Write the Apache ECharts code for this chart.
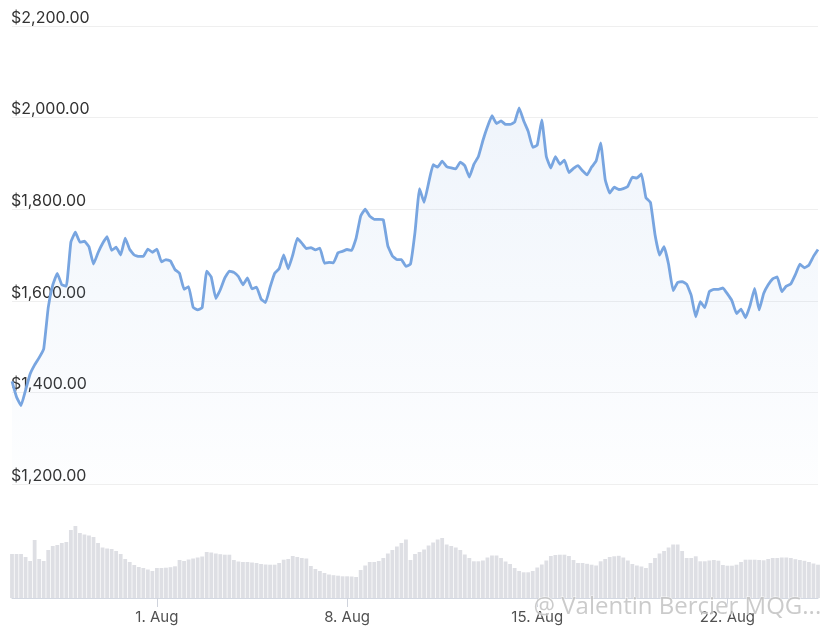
<!DOCTYPE html>
<html>
<head>
<meta charset="utf-8">
<script src="https://cdn.jsdelivr.net/npm/echarts@6/dist/echarts.min.js"></script>
<style>
html,body{margin:0;padding:0;background:#fff;}
#chart{width:828px;height:634px;}
</style>
</head>
<body>
<div id="chart"></div>
<script>
// 4-hourly samples starting 26 Jul 2022 16:00 UTC
const startTime = Date.UTC(2022, 6, 26, 16);
const stepHours = 4;

// ETH price (USD)
const prices = [
  1424,1390,1371,1405,1440,1460,1476,1495,1585,1634,
  1660,1635,1632,1728,1750,1728,1730,1718,1680,1705,
  1725,1740,1710,1717,1700,1737,1712,1700,1697,1697,
  1713,1706,1713,1685,1690,1687,1668,1660,1625,1631,
  1586,1580,1585,1665,1652,1605,1624,1650,1665,1662,
  1653,1635,1650,1626,1630,1604,1596,1630,1660,1670,
  1700,1670,1700,1736,1726,1714,1716,1711,1715,1682,
  1684,1683,1705,1708,1712,1710,1737,1785,1800,1785,
  1778,1778,1777,1720,1698,1690,1690,1675,1680,1750,
  1845,1815,1857,1897,1892,1905,1893,1890,1888,1903,
  1895,1870,1898,1915,1950,1980,2004,1987,1993,1985,
  1985,1990,2021,1993,1970,1935,1940,1995,1915,1890,
  1915,1898,1907,1880,1889,1895,1884,1875,1892,1905,
  1945,1865,1835,1848,1843,1845,1850,1870,1868,1877,
  1825,1815,1745,1700,1718,1680,1622,1640,1642,1636,
  1612,1565,1598,1585,1620,1625,1625,1628,1615,1600,
  1572,1582,1563,1590,1627,1580,1616,1635,1648,1652,
  1620,1632,1637,1657,1680,1672,1678,1697,1712
];

// trading volume (units of $100M)
const volumes = [
  44,44,44,41,37,58,39,37,48,52,
  53,55,56,68,72,65,63.5,62.5,61,55,
  50.5,49.5,49,47,44,39,36,33,31,30,
  28.5,27,30,30,30.3,30.8,31.7,38,37,38.5,
  39.5,40.5,41.5,46,45.5,44.5,43.8,43.3,43.3,38,
  36.5,36,36,35.5,35,34,33.5,33.3,33.3,35,
  38.3,39,42,41,40,39.5,32,29,27,25,
  23.5,22.8,22.3,21.7,21.7,21.5,21,28,32.5,36,
  36,37,40,44.5,48,51.5,55,58.5,38,44,
  46,48.5,52.5,55.5,58.5,60,53.5,52,50.5,48,
  43.5,40,36.7,36.7,37.5,40.5,42.5,42.5,40,36.5,
  34,30,27,25.7,25.7,27,30.5,33.5,37.5,42,
  43,43.3,43.3,42,38,35,35,34.2,33.3,32.5,
  36.7,39,41,41.7,42.2,40.5,37.5,34,32.5,31.5,
  30,35,40,44.5,47,50.5,53.5,53.5,47,40,
  40,41.7,36.7,36.7,37.5,38,37.3,33,32.3,32.3,
  33.3,36,38.3,38.3,38.3,38,37.7,39,40,40,
  40.5,40.5,40,38.8,38,37.2,36,34.5,33.3
];

// date tick labels
const tickDates = ['2022-08-01', '2022-08-08', '2022-08-15', '2022-08-22'];
const monthNames = ['Jan','Feb','Mar','Apr','May','Jun','Jul','Aug','Sep','Oct','Nov','Dec'];
const priceTicks = { min: 1200, max: 2200, interval: 200 };
const watermarkText = '@ Valentin Bercier MQG...';

const times = prices.map((_, i) => startTime + i * stepHours * 3600 * 1000);
const priceData = prices.map((v, i) => [times[i], v]);
const volumeData = volumes.map((v, i) => [times[i], v]);
const tickValues = tickDates.map(d => Date.parse(d + 'T00:00:00Z'));
const tMin = times[0], tMax = times[times.length - 1];
const fontStack = 'Inter, "Noto Sans", sans-serif';

const chart = echarts.init(document.getElementById('chart'), null, { renderer: 'canvas' });
chart.setOption({
  animation: false,
  backgroundColor: '#ffffff',
  textStyle: { fontFamily: fontStack },
  grid: [
    { left: 12, right: 10, top: 26, bottom: 150 },
    { left: 12, right: 10, top: 520, bottom: 36 }
  ],
  xAxis: [
    {
      type: 'value', gridIndex: 0, min: tMin, max: tMax, show: false,
      splitLine: { show: false }
    },
    {
      type: 'value', gridIndex: 1, min: tMin, max: tMax,
      axisLine: { show: true, lineStyle: { color: '#d3d8e2', width: 1 } },
      axisTick: { show: true, customValues: tickValues, length: 9, lineStyle: { color: '#cfd3dc' } },
      axisLabel: {
        customValues: tickValues,
        color: '#505050', fontSize: 15, margin: 12,
        fontFamily: fontStack,
        formatter: v => { const d = new Date(v); return d.getUTCDate() + '. ' + monthNames[d.getUTCMonth()]; }
      },
      splitLine: { show: false }
    }
  ],
  yAxis: [
    {
      type: 'value', gridIndex: 0,
      min: priceTicks.min, max: priceTicks.max, interval: priceTicks.interval,
      axisLine: { show: false }, axisTick: { show: false },
      splitLine: { show: true, lineStyle: { color: '#efefef', width: 1 } },
      axisLabel: {
        inside: true, margin: -1, align: 'left', verticalAlign: 'bottom',
        color: '#333333', fontSize: 16,
        fontFamily: fontStack,
        formatter: v => '$' + v.toLocaleString('en-US', { minimumFractionDigits: 2, maximumFractionDigits: 2 })
      }
    },
    {
      type: 'value', gridIndex: 1, min: 0, max: 78,
      show: false, splitLine: { show: false }
    }
  ],
  series: [
    {
      type: 'bar', xAxisIndex: 1, yAxisIndex: 1, data: volumeData,
      barWidth: 3.8,
      itemStyle: { color: '#dedfe4' },
      silent: true
    },
    {
      type: 'line', xAxisIndex: 0, yAxisIndex: 0, data: priceData,
      showSymbol: false, smooth: 0.1,
      lineStyle: { color: '#78a5e0', width: 2.8 },
      areaStyle: {
        origin: 'start',
        color: new echarts.graphic.LinearGradient(0, 0, 0, 1, [
          { offset: 0, color: 'rgba(120,165,224,0.17)' },
          { offset: 1, color: 'rgba(120,165,224,0.02)' }
        ])
      },
      silent: true
    }
  ],
  graphic: [
    {
      type: 'text', left: 533, top: 595, z: 100,
      style: {
        text: watermarkText,
        fontSize: 24,
        fontFamily: '"Open Sans", "Noto Sans", sans-serif',
        fill: 'rgba(190,190,190,0.8)',
        stroke: 'rgba(255,255,255,0.7)',
        lineWidth: 1
      }
    }
  ]
});
</script>
</body>
</html>
